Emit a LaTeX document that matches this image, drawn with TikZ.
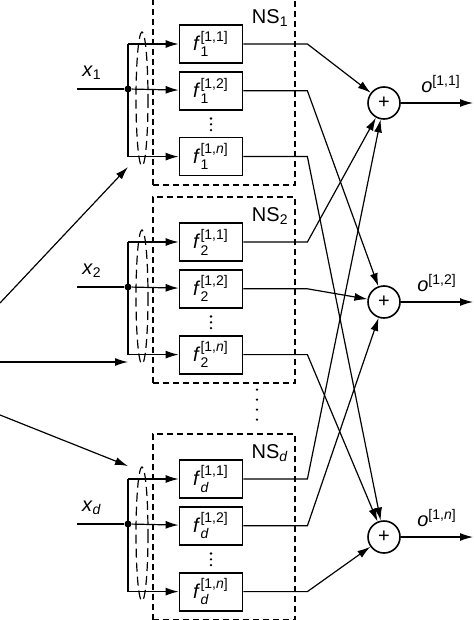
\documentclass[tikz,border=0pt]{standalone}
\usepackage{amsmath}
\usepackage{fontspec}
\setmainfont{Liberation Sans}
\usetikzlibrary{arrows.meta,positioning,calc}

\newcommand{\fname}[2]{$\text{\textit{f}}_{\text{#1}}^{\text{[1,#2]}}$}

\begin{document}
\begin{tikzpicture}[
    x=0.5pt, y=-0.5pt,
    node distance=3.5pt and 8pt,
    unit/.style={rectangle, draw, line width=0.9pt, minimum width=31.5pt, minimum height=19pt, inner sep=0pt},
    nsbox/.style={rectangle, draw, densely dashed, line width=0.6pt, minimum width=71pt, minimum height=93pt},
    sum/.style={circle, draw, line width=0.8pt, minimum size=16pt, inner sep=0pt},
    junc/.style={circle, fill, inner sep=0pt, minimum size=3.5pt},
    vdots/.style={dash pattern=on 0pt off 2.9pt, line cap=round, line width=1.3pt},
    bundle/.style={dash pattern=on 4.5pt off 2.5pt, line width=0.6pt},
    gapdots/.style={dash pattern=on 0pt off 5pt, line cap=round, line width=1.3pt},
    arrow/.style={-{Latex[length=6.5pt, width=4pt]}, line width=0.6pt}
]
    \useasboundingbox (0,0) rectangle (474,620);

    % subnetwork 1
    \node [nsbox] (ns1) at (224,92) {};
    \node [below left=2pt and 0pt of ns1.north east] (nslab1) {NS$_{\text{1}}$};
    \node [unit] (f11) at (211,44) {\fname{1}{1}};
    \node [unit, below=of f11] (f12) {\fname{1}{2}};
    \node [unit, below=13pt of f12] (f1n) {\fname{1}{\textit{n}}};
    \draw [vdots] ($(f12.south)!0.3!(f1n.north)$) -- ($(f12.south)!0.75!(f1n.north)$);
    \coordinate (in1) at (77,89);
    \node [junc] (j1) at (128,89) {};
    \node (x1) at (92,73) {\textit{x}$_{\text{1}}$};
    \draw [line width=0.6pt] (in1) -- (j1);
    \draw [line width=0.6pt] (j1 |- f11) -- (j1 |- f1n);
    \draw [arrow] (j1 |- f11) -- (f11);
    \draw [arrow] (j1) -- (f12);
    \draw [arrow] (j1 |- f1n) -- (f1n);
    \draw [bundle] (142,99) ellipse [x radius=6, y radius=67];

    % subnetwork 2
    \node [nsbox] (ns2) at (224,290) {};
    \node [below left=2pt and 0pt of ns2.north east] (nslab2) {NS$_{\text{2}}$};
    \node [unit] (f21) at (211,242) {\fname{2}{1}};
    \node [unit, below=of f21] (f22) {\fname{2}{2}};
    \node [unit, below=13pt of f22] (f2n) {\fname{2}{\textit{n}}};
    \draw [vdots] ($(f22.south)!0.3!(f2n.north)$) -- ($(f22.south)!0.75!(f2n.north)$);
    \coordinate (in2) at (77,287);
    \node [junc] (j2) at (128,287) {};
    \node (x2) at (92,271) {\textit{x}$_{\text{2}}$};
    \draw [line width=0.6pt] (in2) -- (j2);
    \draw [line width=0.6pt] (j2 |- f21) -- (j2 |- f2n);
    \draw [arrow] (j2 |- f21) -- (f21);
    \draw [arrow] (j2) -- (f22);
    \draw [arrow] (j2 |- f2n) -- (f2n);
    \draw [bundle] (142,297) ellipse [x radius=6, y radius=67];

    % subnetwork d
    \node [nsbox] (nsd) at (224,527) {};
    \node [below left=2pt and 0pt of nsd.north east] (nslabd) {NS$_{\text{\textit{d}}}$};
    \node [unit] (fd1) at (211,479) {\fname{\textit{d}}{1}};
    \node [unit, below=of fd1] (fd2) {\fname{\textit{d}}{2}};
    \node [unit, below=13pt of fd2] (fdn) {\fname{\textit{d}}{\textit{n}}};
    \draw [vdots] ($(fd2.south)!0.3!(fdn.north)$) -- ($(fd2.south)!0.75!(fdn.north)$);
    \coordinate (ind) at (77,524);
    \node [junc] (jd) at (128,524) {};
    \node (xd) at (92,508) {\textit{x}$_{\text{\textit{d}}}$};
    \draw [line width=0.6pt] (ind) -- (jd);
    \draw [line width=0.6pt] (jd |- fd1) -- (jd |- fdn);
    \draw [arrow] (jd |- fd1) -- (fd1);
    \draw [arrow] (jd) -- (fd2);
    \draw [arrow] (jd |- fdn) -- (fdn);
    \draw [bundle] (142,534) ellipse [x radius=6, y radius=67];

    \draw [gapdots] ($(ns2.south)+(33,6)$) -- ($(nsd.north)+(33,-4)$);

    % inputs coming in from the left
    \coordinate (src1) at (0,303);
    \coordinate (src2) at (0,362);
    \coordinate (srcd) at (0,415);
    \coordinate (tip1) at (128,167);
    \coordinate (tip2) at (128,362);
    \coordinate (tipd) at (128,466);
    \draw [arrow] (src1) -- (tip1);
    \draw [arrow] (src2) -- (tip2);
    \draw [arrow] (srcd) -- (tipd);

    % summing nodes
    \node [sum] (sum1) at (384,103) {+};
    \node [sum] (sum2) at (384,302) {+};
    \node [sum] (sumn) at (384,537) {+};
    \coordinate (out1) at (473,103);
    \coordinate (out2) at (473,302);
    \coordinate (outn) at (473,537);
    \draw [arrow] (sum1) -- (out1);
    \draw [arrow] (sum2) -- (out2);
    \draw [arrow] (sumn) -- (outn);
    \node (o1) at (441,84) {\textit{o}$^{\text{[1,1]}}$};
    \node (o2) at (437,283) {\textit{o}$^{\text{[1,2]}}$};
    \node (on) at (437,518) {\textit{o}$^{\text{[1,\textit{n}]}}$};

    \draw [arrow] (f11.east) -- ++(64,0) -- (sum1);
    \draw [arrow] (f12.east) -- ++(64,0) -- (sum2);
    \draw [arrow] (f1n.east) -- ++(64,0) -- (sumn);
    \draw [arrow] (f21.east) -- ++(64,0) -- (sum1);
    \draw [arrow] (f22.east) -- ++(64,0) -- (sum2);
    \draw [arrow] (f2n.east) -- ++(64,0) -- (sumn);
    \draw [arrow] (fd1.east) -- ++(64,0) -- (sum1);
    \draw [arrow] (fd2.east) -- ++(64,0) -- (sum2);
    \draw [arrow] (fdn.east) -- ++(64,0) -- (sumn);
\end{tikzpicture}
\end{document}
